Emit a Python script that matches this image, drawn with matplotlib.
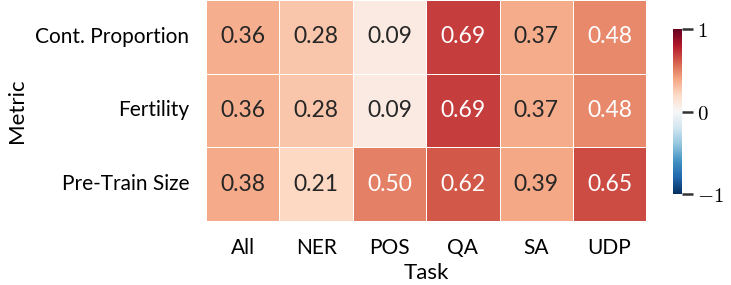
import numpy as np
import matplotlib
matplotlib.use('Agg')
import matplotlib.pyplot as plt
import seaborn as sns

tasks = ["All", "NER", "POS", "QA", "SA", "UDP"]
metrics = ["Cont. Proportion", "Fertility", "Pre-Train Size"]
cont_proportion = [0.36, 0.28, 0.09, 0.69, 0.37, 0.48]
fertility = [0.36, 0.28, 0.09, 0.69, 0.37, 0.48]
pretrain_size = [0.38, 0.21, 0.50, 0.62, 0.39, 0.65]

data = np.array([cont_proportion, fertility, pretrain_size])

plt.rcParams['font.family'] = ['Lato', 'DejaVu Sans']
plt.rcParams['mathtext.fontset'] = 'cm'

fig = plt.figure(figsize=(7.31, 2.85), dpi=100)
ax = fig.add_axes([0.282, 0.225, 0.602, 0.775])
cax = fig.add_axes([0.9207, 0.319, 0.0125, 0.579])

sns.heatmap(data, ax=ax, cbar_ax=cax, cmap='RdBu_r', vmin=-1, vmax=1,
            annot=True, fmt='.2f', linewidths=0.6, linecolor='white',
            annot_kws={'fontsize': 16.5},
            xticklabels=tasks, yticklabels=metrics)

ax.tick_params(length=0, labelsize=15, pad=12)
ax.set_yticklabels(metrics, rotation=0)
ax.set_xticklabels(tasks, rotation=0)
ax.set_xlabel("Task", fontsize=16, labelpad=4)
ax.set_ylabel("Metric", fontsize=16, labelpad=6)

cax.set_yticks([-1, 0, 1])
cax.set_yticklabels([r'$-1$', r'$0$', r'$1$'], fontsize=15)
cax.tick_params(length=8, width=1.8, color='#333333', pad=3)
for s in cax.spines.values():
    s.set_visible(False)

fig.savefig('out.png', dpi=100)
